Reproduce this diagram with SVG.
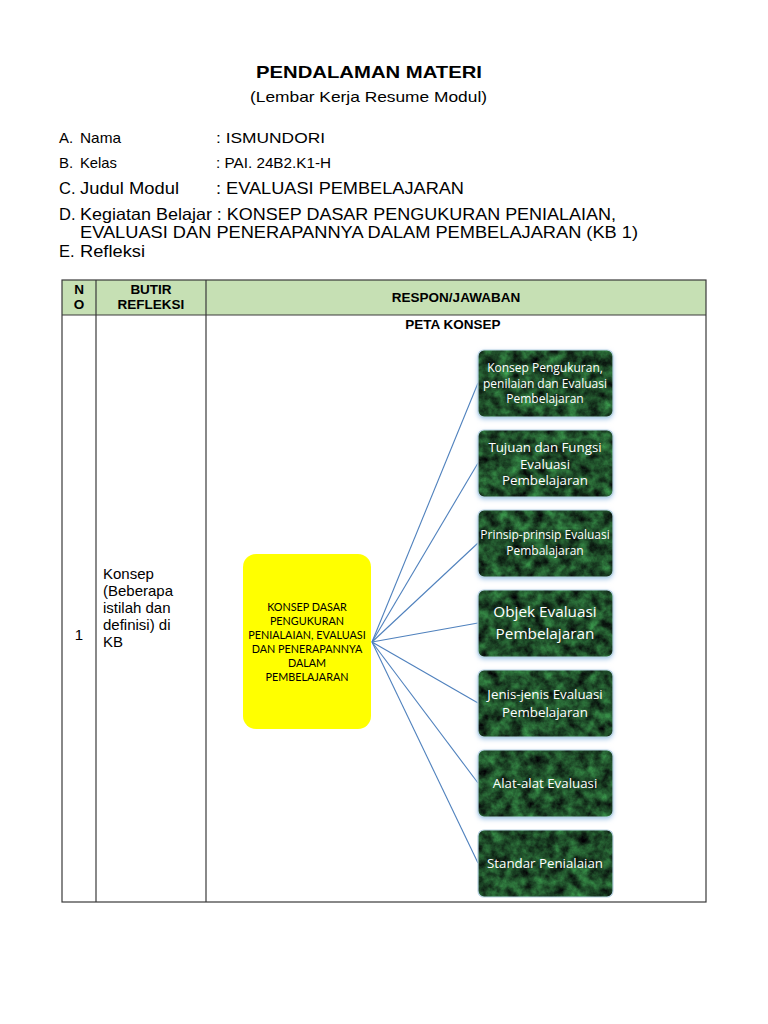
<svg xmlns="http://www.w3.org/2000/svg" width="768" height="1024" viewBox="0 0 768 1024">
<style>
.t{font-family:"Liberation Sans",Arial,sans-serif;fill:#000}
.hd{font-weight:bold;font-size:13.5px;text-anchor:middle}
.info{font-size:15px}
.info2{font-size:16.5px}
.cell{font-size:15px}
.ct{font-family:Lato,"Open Sans",sans-serif;font-size:10.8px;text-anchor:middle;fill:#000}
.gt{font-family:"Open Sans",Lato,sans-serif;text-anchor:middle;fill:#fff}
.s1{font-size:12px}
.s2{font-size:13.3px}
.s3{font-size:15.3px}
.gl{fill:none;stroke:#b9d3e3;stroke-width:1.2}
.conn line{stroke:#4f81bd;stroke-width:1.1}
.grid{stroke:#3a3a3a;stroke-width:1.2;fill:none}
</style>
<defs>
<filter id="marble" x="0" y="0" width="100%" height="100%" color-interpolation-filters="sRGB">
<feTurbulence type="fractalNoise" baseFrequency="0.09" numOctaves="4" seed="7" result="n"/>
<feColorMatrix in="n" type="matrix" values="0.3 0 0 0 -0.03  0.8 0 0 0 -0.1  0.38 0 0 0 -0.03  0 0 0 0 1" result="c"/>
<feComposite in="c" in2="SourceGraphic" operator="in"/>
</filter>
<filter id="glow" x="-20%" y="-20%" width="140%" height="150%">
<feGaussianBlur stdDeviation="2.5"/>
</filter>
</defs>
<rect width="768" height="1024" fill="#fff"/>

<g id="title">
<text class="t" x="256" y="78" font-size="16.5" font-weight="bold" textLength="226" lengthAdjust="spacingAndGlyphs">PENDALAMAN MATERI</text>
<text class="t" x="250" y="102" font-size="15" textLength="237" lengthAdjust="spacingAndGlyphs">(Lembar Kerja Resume Modul)</text>
</g>

<g id="info">
<text class="t info" x="59" y="143">A.</text><text class="t info" x="80" y="143" textLength="41" lengthAdjust="spacingAndGlyphs">Nama</text><text class="t info" x="216" y="143" textLength="109" lengthAdjust="spacingAndGlyphs">: ISMUNDORI</text>
<text class="t info" x="59" y="168">B.</text><text class="t info" x="80" y="168" textLength="37" lengthAdjust="spacingAndGlyphs">Kelas</text><text class="t info" x="216" y="168" textLength="115" lengthAdjust="spacingAndGlyphs">: PAI. 24B2.K1-H</text>
<text class="t info2" x="59" y="194">C.</text><text class="t info2" x="80" y="194" textLength="99" lengthAdjust="spacingAndGlyphs">Judul Modul</text><text class="t info2" x="216" y="194" textLength="248" lengthAdjust="spacingAndGlyphs">: EVALUASI PEMBELAJARAN</text>
<text class="t info2" x="59" y="220">D.</text><text class="t info2" x="80" y="220" textLength="536" lengthAdjust="spacingAndGlyphs">Kegiatan Belajar : KONSEP DASAR PENGUKURAN PENIALAIAN,</text>
<text class="t info2" x="80" y="238" textLength="558" lengthAdjust="spacingAndGlyphs">EVALUASI DAN PENERAPANNYA DALAM PEMBELAJARAN (KB 1)</text>
<text class="t info2" x="59" y="257">E.</text><text class="t info2" x="80" y="257" textLength="65" lengthAdjust="spacingAndGlyphs">Refleksi</text>
</g>

<g id="table">
<rect x="62" y="280" width="644" height="35" fill="#c6e0b4"/>
<rect class="grid" x="62" y="280" width="644" height="622"/>
<line class="grid" x1="62" y1="315" x2="706" y2="315"/>
<line class="grid" x1="96" y1="280" x2="96" y2="902"/>
<line class="grid" x1="206" y1="280" x2="206" y2="902"/>
<text class="t hd" x="79" y="294">N</text>
<text class="t hd" x="79" y="309">O</text>
<text class="t hd" x="151" y="294">BUTIR</text>
<text class="t hd" x="151" y="309">REFLEKSI</text>
<text class="t hd" x="456" y="302">RESPON/JAWABAN</text>
<text class="t hd" x="453" y="329">PETA KONSEP</text>
<text class="t cell" x="79" y="640" text-anchor="middle">1</text>
<text class="t cell" x="103" y="579">Konsep</text>
<text class="t cell" x="103" y="596">(Beberapa</text>
<text class="t cell" x="103" y="613">istilah dan</text>
<text class="t cell" x="103" y="630">definisi) di</text>
<text class="t cell" x="103" y="647">KB</text>
</g>

<g id="connectors" class="conn">
<line x1="372" y1="642" x2="478" y2="383"/>
<line x1="372" y1="642" x2="478" y2="463"/>
<line x1="372" y1="642" x2="478" y2="543"/>
<line x1="372" y1="642" x2="478" y2="623"/>
<line x1="372" y1="642" x2="478" y2="703"/>
<line x1="372" y1="642" x2="478" y2="783"/>
<line x1="372" y1="642" x2="478" y2="863"/>
</g>

<g id="center">
<rect x="243" y="554" width="128" height="175" rx="13" fill="#ffff00"/>
<text class="ct" x="307" y="611">KONSEP DASAR</text>
<text class="ct" x="307" y="625">PENGUKURAN</text>
<text class="ct" x="307" y="639">PENIALAIAN, EVALUASI</text>
<text class="ct" x="307" y="653">DAN PENERAPANNYA</text>
<text class="ct" x="307" y="667">DALAM</text>
<text class="ct" x="307" y="681">PEMBELAJARAN</text>
</g>

<g id="n1">
<rect x="478" y="352" width="135" height="67" rx="6" fill="#9cc3e6" filter="url(#glow)"/>
<rect x="478" y="350" width="135" height="67" rx="6" fill="#2a6b3a" filter="url(#marble)"/>
<rect class="gl" x="478" y="350" width="135" height="67" rx="6"/>
<text class="gt s1" x="545" y="372">Konsep Pengukuran,</text>
<text class="gt s1" x="545" y="388">penilaian dan Evaluasi</text>
<text class="gt s1" x="545" y="403">Pembelajaran</text>
</g>
<g id="n2">
<rect x="478" y="432" width="135" height="67" rx="6" fill="#9cc3e6" filter="url(#glow)"/>
<rect x="478" y="430" width="135" height="67" rx="6" fill="#2a6b3a" filter="url(#marble)"/>
<rect class="gl" x="478" y="430" width="135" height="67" rx="6"/>
<text class="gt s2" x="545" y="452">Tujuan dan Fungsi</text>
<text class="gt s2" x="545" y="469">Evaluasi</text>
<text class="gt s2" x="545" y="485">Pembelajaran</text>
</g>
<g id="n3">
<rect x="478" y="512" width="135" height="67" rx="6" fill="#9cc3e6" filter="url(#glow)"/>
<rect x="478" y="510" width="135" height="67" rx="6" fill="#2a6b3a" filter="url(#marble)"/>
<rect class="gl" x="478" y="510" width="135" height="67" rx="6"/>
<text class="gt s1" x="545" y="539">Prinsip-prinsip Evaluasi</text>
<text class="gt s1" x="545" y="555">Pembalajaran</text>
</g>
<g id="n4">
<rect x="478" y="592" width="135" height="67" rx="6" fill="#9cc3e6" filter="url(#glow)"/>
<rect x="478" y="590" width="135" height="67" rx="6" fill="#2a6b3a" filter="url(#marble)"/>
<rect class="gl" x="478" y="590" width="135" height="67" rx="6"/>
<text class="gt s3" x="545" y="617">Objek Evaluasi</text>
<text class="gt s3" x="545" y="639">Pembelajaran</text>
</g>
<g id="n5">
<rect x="478" y="672" width="135" height="67" rx="6" fill="#9cc3e6" filter="url(#glow)"/>
<rect x="478" y="670" width="135" height="67" rx="6" fill="#2a6b3a" filter="url(#marble)"/>
<rect class="gl" x="478" y="670" width="135" height="67" rx="6"/>
<text class="gt s2" x="545" y="699">Jenis-jenis Evaluasi</text>
<text class="gt s2" x="545" y="717">Pembelajaran</text>
</g>
<g id="n6">
<rect x="478" y="752" width="135" height="67" rx="6" fill="#9cc3e6" filter="url(#glow)"/>
<rect x="478" y="750" width="135" height="67" rx="6" fill="#2a6b3a" filter="url(#marble)"/>
<rect class="gl" x="478" y="750" width="135" height="67" rx="6"/>
<text class="gt s2" x="545" y="788">Alat-alat Evaluasi</text>
</g>
<g id="n7">
<rect x="478" y="830" width="135" height="67" rx="6" fill="#2a6b3a" filter="url(#marble)"/>
<rect class="gl" x="478" y="830" width="135" height="67" rx="6"/>
<text class="gt s2" x="545" y="868">Standar Penialaian</text>
</g>
</svg>
